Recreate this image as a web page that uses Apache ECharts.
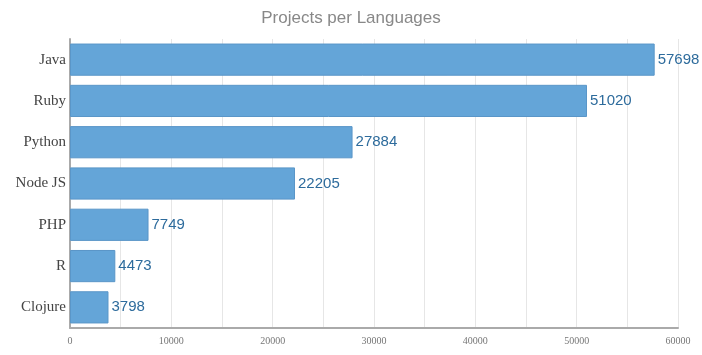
<!DOCTYPE html>
<html><head><meta charset="utf-8">
<script src="https://cdn.jsdelivr.net/npm/echarts@6/dist/echarts.min.js"></script>
<style>html,body{margin:0;padding:0;background:#fff}#c{width:702px;height:355px}</style>
</head><body><div id="c"></div>
<script>
const categories = ['Java','Ruby','Python','Node JS','PHP','R','Clojure'];
const projects = [57698, 51020, 27884, 22205, 7749, 4473, 3798];
const chart = echarts.init(document.getElementById('c'));
chart.setOption({
  animation:false,
  title:{text:'Projects per Languages',left:'center',top:5,textStyle:{fontFamily:'Liberation Sans',fontSize:17,fontWeight:'normal',color:'#888'}},
  grid:{left:70,right:24,top:39,bottom:27},
  xAxis:{type:'value',min:0,max:60000,interval:5000,
    axisLine:{show:true,lineStyle:{color:'#aaa',width:2}},
    axisTick:{show:false},
    splitLine:{show:true,lineStyle:{color:'#e6e6e6'}},
    axisLabel:{fontFamily:'Liberation Serif',fontSize:10,color:'#777',margin:8,
      formatter:v=> v%10000===0 ? String(v) : ''}},
  yAxis:{type:'category',data:categories,inverse:true,
    axisLine:{show:true,lineStyle:{color:'#aaa',width:2}},
    axisTick:{show:false},
    axisLabel:{fontFamily:'Liberation Serif',fontSize:15,color:'#444',margin:4,padding:[3,0,0,0]}},
  series:[{type:'bar',data:projects,barCategoryGap:'22%',
    itemStyle:{color:'#64a5d8',borderColor:'#5a96c8',borderWidth:1},
    label:{show:true,position:'right',distance:3,fontFamily:'Liberation Sans',fontSize:15,color:'#2d6b9c',padding:[2,0,0,0]}}]
});
</script></body></html>
